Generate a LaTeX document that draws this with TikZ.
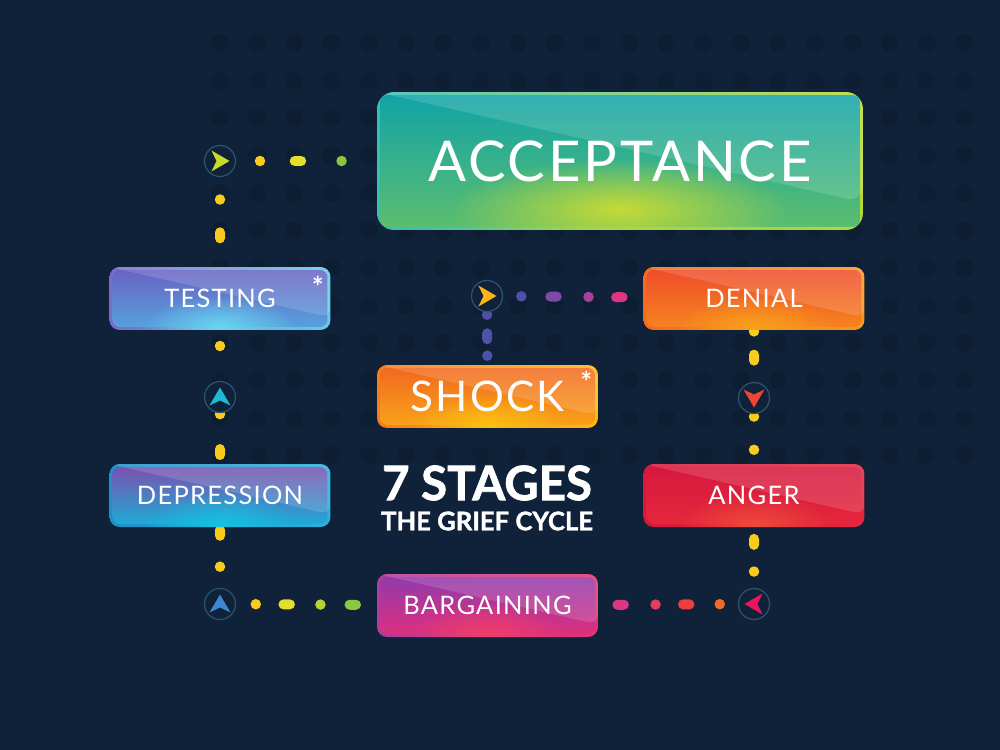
\documentclass[tikz,border=0pt]{standalone}
\usepackage{fontspec}
\setmainfont{Lato}
\newfontfamily\labelfont{Lato}[LetterSpace=5]
\newfontfamily\heavyfont{Lato}[BoldFeatures={FakeBold=1.5}]
\usetikzlibrary{positioning,calc,fadings}

\definecolor{bgnavy}{HTML}{0F2239}
\definecolor{griddot}{HTML}{0D1E32}
\definecolor{ring}{HTML}{2B5470}
% stage colours: border left / border right / top / bottom / glow
\definecolor{accL}{HTML}{37BFB4}\definecolor{accR}{HTML}{B8D936}
\definecolor{accT}{HTML}{0FA3A8}\definecolor{accB}{HTML}{5DBE6E}\definecolor{accG}{HTML}{C6DA36}
\definecolor{tstL}{HTML}{7C6BC6}\definecolor{tstR}{HTML}{62CDEA}
\definecolor{tstT}{HTML}{6A60C2}\definecolor{tstB}{HTML}{55A4DE}\definecolor{tstG}{HTML}{6AD6F2}
\definecolor{denL}{HTML}{F26B22}\definecolor{denR}{HTML}{F79A1E}
\definecolor{denT}{HTML}{EE4A2B}\definecolor{denB}{HTML}{F7861E}\definecolor{denG}{HTML}{F9A01B}
\definecolor{shkL}{HTML}{F47C20}\definecolor{shkR}{HTML}{FDB813}
\definecolor{shkT}{HTML}{F2661F}\definecolor{shkB}{HTML}{F9A51A}\definecolor{shkG}{HTML}{FDC010}
\definecolor{depL}{HTML}{1E8FC9}\definecolor{depR}{HTML}{2BB0DE}
\definecolor{depT}{HTML}{7E4DAE}\definecolor{depB}{HTML}{1AAFD8}\definecolor{depG}{HTML}{16C0E0}
\definecolor{angL}{HTML}{D9183B}\definecolor{angR}{HTML}{E4263E}
\definecolor{angT}{HTML}{D5173E}\definecolor{angB}{HTML}{E5283C}\definecolor{angG}{HTML}{EE4A3A}
\definecolor{brgL}{HTML}{B03C9C}\definecolor{brgR}{HTML}{E6336F}
\definecolor{brgT}{HTML}{8E3AAE}\definecolor{brgB}{HTML}{E0307B}\definecolor{brgG}{HTML}{F03E6B}
% arrow colours
\definecolor{arrA}{HTML}{C5DC2A}
\definecolor{arrS}{HTML}{F8B418}
\definecolor{arrT}{HTML}{1FB8D0}
\definecolor{arrD}{HTML}{EF4634}
\definecolor{arrP}{HTML}{3F86D0}
\definecolor{arrB}{HTML}{E8175D}
% bead colours
\definecolor{ylw}{HTML}{F8CB1D}
\definecolor{lemon}{HTML}{E2E02B}
\definecolor{lime}{HTML}{B4D334}
\definecolor{grn}{HTML}{8CC63F}
\definecolor{rose}{HTML}{DC3780}
\definecolor{coral}{HTML}{E33D5F}
\definecolor{scarlet}{HTML}{EE3F3F}
\definecolor{tang}{HTML}{F26A2A}
\definecolor{indigo}{HTML}{4D52A8}
\definecolor{violet}{HTML}{7C4AA9}
\definecolor{plum}{HTML}{A8409C}

\tikzfading[name=glowfade, inner color=transparent!0, outer color=transparent!100]

\pgfdeclarelayer{back}
\pgfdeclarelayer{beads}
\pgfsetlayers{back,beads,main}

\begin{document}
\begin{tikzpicture}[x=0.02cm, y=-0.02cm,
  stage/.style n args={5}{rectangle, rounded corners=0.2cm, minimum width=4.42cm,
    minimum height=1.26cm, inner sep=0pt, text=white,
    font=\labelfont\fontsize{14.5}{16}\selectfont, left color=#1, right color=#2,
    path picture={
      \shade[top color=#3, bottom color=#4, rounded corners=0.15cm]
        ($(path picture bounding box.north west)+(0.06cm,-0.06cm)$) rectangle
        ($(path picture bounding box.south east)+(-0.06cm,0.06cm)$);
      \fill[#5, path fading=glowfade]
        ($(path picture bounding box.south west)!0.15!(path picture bounding box.south east)+(0,-0.6cm)$) rectangle
        ($(path picture bounding box.west)!0.85!(path picture bounding box.east)+(0,0.05cm)$);
      \fill[white, opacity=0.14]
        (path picture bounding box.north west) -- (path picture bounding box.north east)
        -- ($(path picture bounding box.south east)!0.2!(path picture bounding box.north east)$) -- cycle;
    }},
  turn/.style={circle, minimum size=0.62cm, inner sep=0pt, draw=ring,
    line width=0.7pt, fill=bgnavy},
  pip/.style={circle, inner sep=0pt, minimum size=0.21cm, fill=#1},
  hpill/.style={rectangle, rounded corners=0.1cm, inner sep=0pt, minimum width=0.33cm,
    minimum height=0.2cm, fill=#1},
  vpill/.style={rectangle, rounded corners=0.1cm, inner sep=0pt, minimum width=0.2cm,
    minimum height=0.32cm, fill=#1},
  asterisk/.style={text=white, inner sep=0pt, font=\bfseries\fontsize{16}{16}\selectfont},
  title/.style={text=white, inner sep=0pt, font=\heavyfont\bfseries\fontsize{27}{30}\selectfont},
  subtitle/.style={text=white, inner sep=0pt, font=\heavyfont\bfseries\fontsize{14.6}{16}\selectfont}]

  \useasboundingbox (0,0) rectangle (1000,750);

  %----- background with dot grid -----
  \begin{pgfonlayer}{back}
    \fill[bgnavy] (0,0) rectangle (1000,750);
    \foreach \i in {0,...,20}
      \foreach \j in {0,...,11}
        \fill[griddot] (220+37.2*\i, 43+37.5*\j) circle (0.18cm);
  \end{pgfonlayer}

  %----- stages -----
  \node[stage={accL}{accR}{accT}{accB}{accG}, minimum width=9.72cm,
    minimum height=2.76cm, rounded corners=0.34cm,
    font=\labelfont\fontsize{32}{35}\selectfont] (acc) at (620,161) {ACCEPTANCE};
  \node[stage={tstL}{tstR}{tstT}{tstB}{tstG}] (test) at (220,298.5) {TESTING};
  \node[stage={denL}{denR}{denT}{denB}{denG}] (den) at (754,298.5) {DENIAL};
  \node[stage={shkL}{shkR}{shkT}{shkB}{shkG},
    font=\labelfont\fontsize{24}{26}\selectfont] (shock) at (487.5,396.5) {SHOCK};
  \node[stage={depL}{depR}{depT}{depB}{depG}] (dep) at (220,495.5) {DEPRESSION};
  \node[stage={angL}{angR}{angT}{angB}{angG}] (ang) at (754,495.5) {ANGER};
  \node[stage={brgL}{brgR}{brgT}{brgB}{brgG}] (barg) at (487.5,605.5) {BARGAINING};

  \node[asterisk] (testast) at ([shift={(-0.26cm,-0.4cm)}]test.north east) {*};
  \node[asterisk] (shockast) at ([shift={(-0.24cm,-0.34cm)}]shock.north east) {*};

  \node[title] (ttl) at (487,483) {7 STAGES};
  \node[subtitle] (sub) at (487,521) {THE GRIEF CYCLE};

  %----- turning points -----
  \node[turn] (tA) at (220,161) {};
  \node[turn] (tS) at (487,296) {};
  \node[turn] (tT) at (220,397) {};
  \node[turn] (tD) at (754,398) {};
  \node[turn] (tP) at (220,604) {};
  \node[turn] (tB) at (754,604) {};

  % pointer inside a turning point (node, colour, angle)
  \def\pointer#1#2#3{\fill[#2, shift={(#1.center)}, rotate=#3]
    (0.19cm,0) -- (-0.17cm,0.21cm) -- (-0.07cm,0) -- (-0.17cm,-0.21cm) -- cycle;}
  \pointer{tA}{arrA}{0}
  \pointer{tS}{arrS}{0}
  \pointer{tT}{arrT}{90}
  \pointer{tD}{arrD}{-90}
  \pointer{tP}{arrP}{90}
  \pointer{tB}{arrB}{180}

  %----- dotted connectors (pos / kind / colour) -----
  \def\beadrow#1#2#3{\foreach \p/\k/\c in {#3} {\path (#1) -- (#2) node[\k=\c, pos=\p] {};}}
  \begin{pgfonlayer}{beads}
    \beadrow{tA}{acc}{0.17/pip/ylw, 0.44/hpill/lemon, 0.75/pip/grn}
    \beadrow{tA}{test}{0.25/pip/ylw, 0.65/vpill/ylw}
    \beadrow{test}{tT}{0.31/pip/ylw}
    \beadrow{tT}{dep}{0.02/pip/ylw, 0.77/vpill/ylw}
    \beadrow{dep}{tP}{0.09/vpill/ylw, 0.65/pip/ylw}
    \beadrow{tP}{barg}{0.14/pip/ylw, 0.36/hpill/lemon, 0.60/pip/lime, 0.83/hpill/grn}
    \beadrow{barg}{tB}{0.16/hpill/rose, 0.41/pip/coral, 0.63/hpill/scarlet, 0.87/pip/tang}
    \beadrow{tB}{ang}{0.27/pip/ylw, 0.76/vpill/ylw}
    \beadrow{ang}{tD}{0.28/pip/ylw, 0.95/pip/ylw}
    \beadrow{tD}{den}{0.47/vpill/ylw, 0.98/pip/ylw}
    \beadrow{tS}{den}{0.13/pip/indigo, 0.36/hpill/violet, 0.61/pip/plum, 0.83/hpill/rose}
    \beadrow{tS}{shock}{0.05/pip/indigo, 0.46/vpill/indigo, 0.83/pip/indigo}
  \end{pgfonlayer}
\end{tikzpicture}
\end{document}
